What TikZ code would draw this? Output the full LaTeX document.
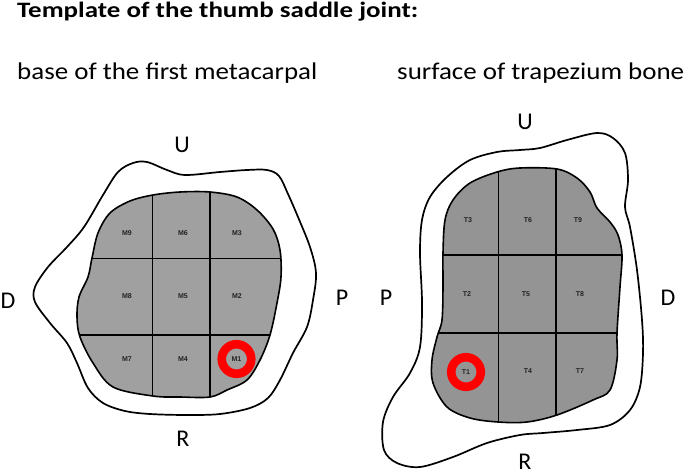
\documentclass[tikz,border=0pt]{standalone}
\usepackage{fontspec}
\setmainfont{Carlito}
\newfontfamily\lblfont{Liberation Sans}
\definecolor{lgray}{RGB}{160,160,160}
\definecolor{rgray}{RGB}{148,148,148}
\definecolor{ringred}{RGB}{255,0,0}
\definecolor{lbltext}{RGB}{35,35,35}
\newcommand\hfit[2]{\resizebox{#1}{\height}{#2}}
\begin{document}
\begin{tikzpicture}[x=1pt,y=-1pt,
  outline/.style={line width=1.7pt,line join=round},
  innerline/.style={line width=1.6pt,line join=round},
  gridline/.style={line width=1.3pt},
  cell/.style={font=\lblfont\bfseries\fontsize{7}{8}\selectfont,text=lbltext,inner sep=0pt},
  ring/.style={circle,draw=ringred,line width=8.6pt,minimum size=29.5pt},
  dir/.style={font=\fontsize{24}{28}\selectfont,inner sep=0pt,anchor=base},
  head/.style={inner sep=0pt,anchor=base west}]
\useasboundingbox (0,0) rectangle (685,476);
% titles
\node[head,font=\bfseries\fontsize{22}{26}\selectfont] (title) at (17,18) {\hfit{401pt}{Template of the thumb saddle joint:}};
\node[head,font=\fontsize{24}{28}\selectfont] (subl) at (17,80) {\hfit{300pt}{base of the first metacarpal}};
\node[head,font=\fontsize{24}{28}\selectfont] (subr) at (397,80) {\hfit{287pt}{surface of trapezium bone}};
% ---------- left: metacarpal ----------
\draw[outline] plot[smooth cycle,tension=0.55] coordinates {
 (147,162) (167,170) (185,175) (220,172) (247,170) (267,170) (279,176) (288,194)
 (298,217) (310,247) (316,273) (313,300) (307,327) (293,353) (280,380) (268,398)
 (250,408) (220,414) (187,415) (150,414) (125,411) (103,403) (88,388) (77,363)
 (67,343) (50,323) (35,302) (35,287) (48,267) (67,247) (84,227) (103,195)
 (118,172) (133,163)};
\def\leftinner{plot[smooth cycle,tension=0.55] coordinates {
 (153,195) (180,192) (210,192) (237,197) (257,210) (273,229) (280,250) (281,277)
 (277,303) (270,335) (260,360) (247,380) (227,390) (210,397) (180,397) (153,396)
 (113,387) (93,363) (80,337) (77,317) (79,297) (88,277) (92,258) (98,233)
 (110,213) (130,201)}}
\fill[lgray] \leftinner;
\begin{scope}
\clip \leftinner;
\draw[gridline] (152.5,150) -- (152.5,420);
\draw[gridline] (210,150) -- (210,420);
\draw[gridline] (60,258.3) -- (300,258.3);
\draw[gridline] (60,335) -- (300,335);
\end{scope}
\draw[innerline] \leftinner;
\node[cell] (M9) at (127,233) {M9};
\node[cell] (M6) at (183,233) {M6};
\node[cell] (M3) at (237,233) {M3};
\node[cell] (M8) at (127,296) {M8};
\node[cell] (M5) at (183,296) {M5};
\node[cell] (M2) at (237,296) {M2};
\node[cell] (M7) at (127,359) {M7};
\node[cell] (M4) at (183,359) {M4};
\node[cell,ring] (M1) at (236.5,359) {M1};
\node[dir] (LU) at (182,153) {U};
\node[dir] (LD) at (8,308) {D};
\node[dir] (LP) at (342,305) {P};
\node[dir] (LR) at (183,446) {R};
% ---------- right: trapezium ----------
\draw[outline] plot[smooth cycle,tension=0.55] coordinates {
 (520,150) (540,148) (567,140) (597,133) (613,138) (625,153) (628,180) (625,207)
 (630,227) (637,270) (642,320) (643,353) (640,387) (630,410) (610,425) (577,430)
 (543,433) (520,435) (487,443) (453,457) (420,467) (397,463) (384,450) (383,422)
 (393,397) (410,373) (420,347) (422,303) (420,253) (422,220) (430,197) (447,177)
 (470,160) (497,152)};
\def\rightinner{plot[smooth cycle,tension=0.55] coordinates {
 (520,168) (557,169) (577,178) (590,192) (597,208) (610,222) (618,235) (622,255)
 (620,287) (617,333) (617,360) (610,390) (593,400) (557,415) (527,422) (498,422)
 (470,418) (447,407) (433,383) (432,360) (437,337) (442,320) (443,287) (443,253)
 (445,220) (453,200) (470,183) (497,172)}}
\fill[rgray] \rightinner;
\begin{scope}
\clip \rightinner;
\draw[gridline] (498.3,150) -- (498.3,440);
\draw[gridline] (556,150) -- (556,440);
\draw[gridline] (420,255) -- (640,255);
\draw[gridline] (420,333) -- (640,333);
\end{scope}
\draw[innerline] \rightinner;
\node[cell] (T3) at (468,220) {T3};
\node[cell] (T6) at (528,220) {T6};
\node[cell] (T9) at (578,220) {T9};
\node[cell] (T2) at (467,294) {T2};
\node[cell] (T5) at (526,294) {T5};
\node[cell] (T8) at (580,294) {T8};
\node[cell,ring] (T1) at (466,372) {T1};
\node[cell] (T4) at (528,371) {T4};
\node[cell] (T7) at (580,371) {T7};
\node[dir] (RU) at (525,130) {U};
\node[dir] (RP) at (386,305) {P};
\node[dir] (RD) at (668,305) {D};
\node[dir] (RR) at (525,469) {R};
\end{tikzpicture}
\end{document}
